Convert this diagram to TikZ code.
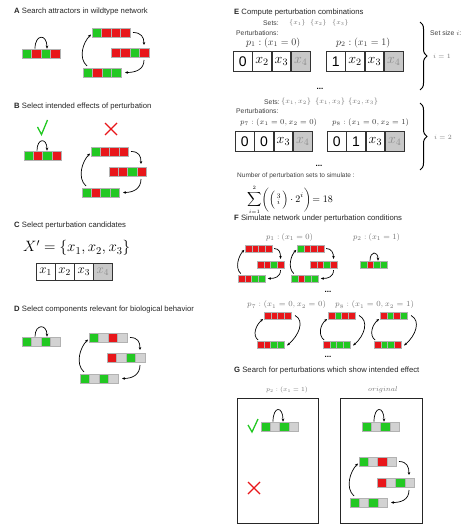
\RequirePackage{fix-cm}
\documentclass[tikz,border=0pt]{standalone}
\usepackage{amsmath}
\usepackage{fontspec}
\setmainfont{Liberation Sans}
\usetikzlibrary{calc,decorations.pathreplacing,arrows.meta}
\definecolor{cg}{RGB}{34,200,34}
\definecolor{cr}{RGB}{232,22,26}
\definecolor{cy}{RGB}{210,210,210}
\definecolor{bx}{RGB}{200,200,200}
\tikzset{
  title/.style={anchor=west, inner sep=0, text=black!85, font=\fontsize{7.7}{9}\selectfont},
  small/.style={anchor=west, inner sep=0, text=black!75, font=\fontsize{6.8}{8}\selectfont},
  glab/.style={anchor=west, inner sep=0, text=black!55},
  arr/.style={-{Stealth[length=3pt,width=2.6pt]}, line width=0.7pt},
  cellb/.style={draw=black!30, line width=0.3pt},
  vcell/.style={draw=black!80, line width=0.6pt, inner sep=0, anchor=north west},
  dots/.style={inner sep=0, font=\bfseries\fontsize{8}{8}\selectfont},
  okmark/.style={draw=cg, line width=1.3pt},
  nomark/.style={draw=cr, line width=1.2pt},
}
\newcommand{\cbar}[6]{%
  \node[inner sep=0, outer sep=0, minimum width=4*#4, minimum height=#5, anchor=north west] (#1) at (#2,#3) {};
  \foreach \c [count=\i from 0] in {#6}{\filldraw[fill=\c, cellb] ($(#1.north west)+(\i*#4,0)$) rectangle ++(#4,#5);}
}
\newcommand{\valrow}[9]{%
  \node[vcell, minimum width=#4, minimum height=#5, font=#9] (#1a) at (#2,#3) {#6};
  \node[vcell, minimum width=#4, minimum height=#5, font=#9] (#1b) at (#1a.north east) {#7};
  \node[vcell, minimum width=#4, minimum height=#5, font=#9] (#1c) at (#1b.north east) {#8};
  \node[vcell, minimum width=#4, minimum height=#5, font=#9, fill=bx, text=black!45] (#1d) at (#1c.north east) {$x_4$};
}
\newcommand{\sloop}[4]{%
  \draw[arr] ($(#1.north west)+(#2,-0.3)$) .. controls +(0,-#4) and +(0,-#4) .. ($(#1.north west)+(#3,-0.3)$);
}
\newcommand{\cyc}[4]{%
  \draw[arr] ($(#1.east)+(3*#4,0)$) .. controls +(8*#4,0) and +(0,-8*#4) .. ($(#2.north east)+(-5*#4,-3*#4)$);
  \draw[arr] ($(#2.south east)+(-5*#4,3*#4)$) .. controls +(0,10*#4) and +(10*#4,0) .. ($(#3.east)+(4*#4,0)$);
  \draw[arr] ($(#3.north west)+(4*#4,-2*#4)$) .. controls +(-9*#4,-8*#4) and +(-8*#4,8*#4) .. ($(#1.west)+(-1*#4,2*#4)$);
}
\newcommand{\cyctwo}[2]{%
  \draw[arr] ($(#1.east)+(4,0)$) .. controls +(10,5) and +(12,-10) .. ($(#2.east)+(3,1)$);
  \draw[arr] ($(#2.north west)+(1,-1)$) .. controls +(-6,-5) and +(-7,6) .. ($(#1.south west)+(-1,0)$);
}
\begin{document}
\begin{tikzpicture}[x=1pt,y=-1pt]
\useasboundingbox (0,0) rectangle (474,526);
% ---------- A
\node[title] (tA) at (14,12) {\textbf{A} Search attractors in wildtype network};
\cbar{a1}{22}{49}{9.5}{9}{cg,cr,cg,cr}
\sloop{a1}{13}{25}{15}
\cbar{a2}{92}{28}{9.5}{9}{cg,cr,cr,cr}
\cbar{a3}{111}{48}{9.5}{9}{cr,cr,cg,cr}
\cbar{a4}{83}{68}{9.5}{9}{cg,cr,cg,cg}
\cyc{a2}{a3}{a4}{1}
% ---------- B
\node[title] (tB) at (14,107) {\textbf{B} Select intended effects of perturbation};
\draw[okmark] (37.5,127) -- (41.5,134.5) -- (47.5,120);
\draw[nomark] (105,123) -- (117,135) (117,123) -- (105,135);
\cbar{b1}{24}{151}{9.25}{9}{cg,cr,cg,cr}
\sloop{b1}{13}{23}{13}
\cbar{b2}{91}{147}{9.25}{9}{cg,cr,cr,cr}
\cbar{b3}{109}{167}{9.25}{9}{cr,cr,cg,cr}
\cbar{b4}{82}{188}{9.25}{9}{cg,cr,cg,cg}
\cyc{b2}{b3}{b4}{1}
% ---------- C
\node[title] (tC) at (14,226) {\textbf{C} Select perturbation candidates};
\node[anchor=west, inner sep=0, font=\fontsize{15}{17}\selectfont] (xset) at (23,248) {$X' = \{x_1, x_2, x_3\}$};
\valrow{c}{36}{263}{18.5}{17}{$x_1$}{$x_2$}{$x_3$}{\fontsize{13}{14}\selectfont}
% ---------- D
\node[title] (tD) at (14,310) {\textbf{D} Select components relevant for biological behavior};
\cbar{d1}{22}{337}{9.5}{9}{cg,cy,cg,cy}
\sloop{d1}{13}{25}{13}
\cbar{d2}{89}{333}{9.5}{9}{cg,cy,cr,cy}
\cbar{d3}{107}{353}{9.5}{9}{cr,cy,cg,cy}
\cbar{d4}{80}{374}{9.5}{9}{cg,cy,cg,cy}
\cyc{d2}{d3}{d4}{1}
% ---------- E
\node[title] (tE) at (234,13) {\textbf{E} Compute perturbation combinations};
\node[small] (s1) at (263,23) {Sets:};
\node[glab, font=\fontsize{6.5}{7}\selectfont] (s1a) at (289,23) {$\{x_1\}$};
\node[glab, font=\fontsize{6.5}{7}\selectfont] (s1b) at (310,23) {$\{x_2\}$};
\node[glab, font=\fontsize{6.5}{7}\selectfont] (s1c) at (332,23) {$\{x_3\}$};
\node[small] (pt1) at (236,33) {Perturbations:};
\node[anchor=west, inner sep=0, text=black!80, font=\fontsize{10}{11}\selectfont] (p1) at (246,43) {$p_1 : (x_1 = 0)$};
\node[anchor=west, inner sep=0, text=black!80, font=\fontsize{10}{11}\selectfont] (p2) at (336,43) {$p_2 : (x_1 = 1)$};
\valrow{ea}{233}{51}{18.75}{20}{0}{$x_2$}{$x_3$}{\fontsize{14}{15}\selectfont}
\valrow{eb}{326}{51}{18.75}{20}{1}{$x_2$}{$x_3$}{\fontsize{14}{15}\selectfont}
\node[dots] (dE1) at (320,89) {...};
\node[small] (s2) at (264,102) {Sets:};
\node[glab, font=\fontsize{7.3}{8}\selectfont] (s2a) at (281,102) {$\{x_1,x_2\}$};
\node[glab, font=\fontsize{7.3}{8}\selectfont] (s2b) at (315,102) {$\{x_1,x_3\}$};
\node[glab, font=\fontsize{7.3}{8}\selectfont] (s2c) at (348,102) {$\{x_2,x_3\}$};
\node[small] (pt2) at (236,111) {Perturbations:};
\node[anchor=west, inner sep=0, text=black!80, font=\fontsize{7.6}{9}\selectfont] (p7) at (240,123) {$p_7 : (x_1 = 0, x_2 = 0)$};
\node[anchor=west, inner sep=0, text=black!80, font=\fontsize{7.6}{9}\selectfont] (p8) at (332,123) {$p_8 : (x_1 = 0, x_2 = 1)$};
\valrow{ec}{235}{131}{18.75}{20}{0}{0}{$x_3$}{\fontsize{14}{15}\selectfont}
\valrow{ed}{327}{131}{18.75}{20}{0}{1}{$x_3$}{\fontsize{14}{15}\selectfont}
\node[dots] (dE2) at (319,166) {...};
\draw[decorate, decoration={brace, amplitude=7pt}, line width=1pt] (420,22) -- (420,90);
\draw[decorate, decoration={brace, amplitude=7pt}, line width=1pt] (420,103) -- (420,170);
\node[small] (ss) at (430,33) {Set size $i$:};
\node[glab, font=\fontsize{6.5}{7}\selectfont] (i1) at (433,56) {$i = 1$};
\node[glab, font=\fontsize{6.5}{7}\selectfont] (i2) at (434,137) {$i = 2$};
\node[small, font=\fontsize{6.5}{7}\selectfont] (num) at (237,176) {Number of perturbation sets to simulate :};
\node[anchor=west, inner sep=0, font=\fontsize{10}{11}\selectfont] (sum) at (247,200) {$\displaystyle\sum_{\scriptscriptstyle i=1}^{\scriptscriptstyle 2}\biggl(\Bigl(\begin{smallmatrix}3\\ i\end{smallmatrix}\Bigr)\cdot 2^i\biggr)\!= 18$};
% ---------- F
\node[title] (tF) at (234,219) {\textbf{F} Simulate network under perturbation conditions};
\node[glab, font=\fontsize{8}{9}\selectfont] (fp1) at (266,237) {$p_1 : (x_1 = 0)$};
\node[glab, font=\fontsize{8}{9}\selectfont] (fp2) at (353,237) {$p_2 : (x_1 = 1)$};
\cbar{f1}{245}{245}{6.75}{7}{cr,cr,cr,cr}
\cbar{f2}{257}{261}{6.75}{7}{cr,cr,cg,cr}
\cbar{f3}{238}{275}{6.75}{7}{cr,cr,cg,cg}
\cyc{f1}{f2}{f3}{0.7}
\cbar{f4}{297}{245}{6.75}{7}{cg,cr,cr,cr}
\cbar{f5}{310}{261}{6.75}{7}{cr,cr,cg,cr}
\cbar{f6}{291}{275}{6.75}{7}{cg,cr,cg,cg}
\cyc{f4}{f5}{f6}{0.7}
\cbar{f7}{360}{261}{6.75}{7}{cg,cr,cg,cg}
\sloop{f7}{10}{18}{10}
\node[dots] (dF1) at (328,292) {...};
\node[glab, font=\fontsize{7.8}{9}\selectfont] (fp7) at (247,305) {$p_7 : (x_1 = 0, x_2 = 0)$};
\node[glab, font=\fontsize{7.8}{9}\selectfont] (fp8) at (335,305) {$p_8 : (x_1 = 0, x_2 = 1)$};
\cbar{f8}{264}{312}{6.75}{7}{cr,cr,cr,cr}
\cbar{f9}{257}{341}{6.75}{7}{cr,cr,cg,cg}
\cyctwo{f8}{f9}
\cbar{f10}{328}{312}{6.75}{7}{cr,cg,cr,cr}
\cbar{f11}{323}{341}{6.75}{7}{cr,cg,cg,cg}
\cyctwo{f10}{f11}
\cbar{f12}{380}{312}{6.75}{7}{cr,cg,cr,cg}
\cbar{f13}{374}{341}{6.75}{7}{cr,cg,cg,cr}
\cyctwo{f12}{f13}
\node[dots] (dF2) at (328,357) {...};
% ---------- G
\node[title] (tG) at (234,371) {\textbf{G} Search for perturbations which show intended effect};
\node[glab, font=\fontsize{6.2}{7}\selectfont] (gp2) at (266,390) {$p_2 : (x_1 = 1)$};
\node[glab, font=\fontsize{7}{8}\selectfont] (gor) at (368,390) {$original$};
\node[draw=black!85, line width=1.4pt, inner sep=0, minimum width=81, minimum height=125, anchor=north west] (gL) at (237,398) {};
\node[draw=black!85, line width=1.4pt, inner sep=0, minimum width=82, minimum height=125, anchor=north west] (gR) at (340,398) {};
\draw[okmark] (248,425) -- (252,432) -- (258,419);
\draw[nomark] (248,482) -- (260,494) (260,482) -- (248,494);
\cbar{g1}{261}{422}{9.25}{9}{cg,cy,cg,cy}
\sloop{g1}{12}{22}{16}
\cbar{g2}{362}{422}{9.25}{9}{cg,cy,cg,cy}
\sloop{g2}{12}{22}{16}
\cbar{g3}{359}{457}{9.25}{9}{cg,cy,cr,cy}
\cbar{g4}{377}{478}{9.25}{9}{cr,cy,cg,cy}
\cbar{g5}{350}{498}{9.25}{9}{cg,cy,cg,cy}
\cyc{g3}{g4}{g5}{1}
\end{tikzpicture}
\end{document}
